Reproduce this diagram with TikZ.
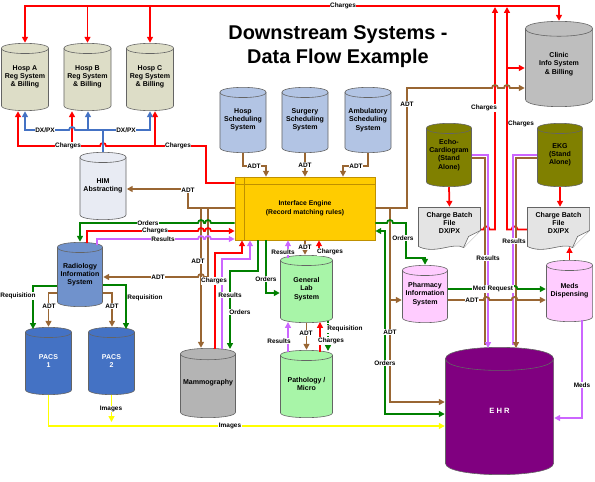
\documentclass[tikz,border=0pt]{standalone}
\usepackage{fontspec}
\setmainfont{Liberation Sans}
\usetikzlibrary{arrows.meta,calc}

\definecolor{cred}{RGB}{255,0,0}
\definecolor{cbrown}{RGB}{153,102,51}
\definecolor{cgreen}{RGB}{0,128,0}
\definecolor{cpurple}{RGB}{204,102,255}
\definecolor{cblue}{RGB}{68,114,196}
\definecolor{cyellow}{RGB}{255,255,0}
\definecolor{hospfill}{RGB}{221,221,199}
\definecolor{clinicfill}{RGB}{190,190,190}
\definecolor{schedfill}{RGB}{178,196,228}
\definecolor{himfill}{RGB}{232,235,243}
\definecolor{olivefill}{RGB}{128,128,0}
\definecolor{radfill}{RGB}{112,146,204}
\definecolor{pacsfill}{RGB}{68,114,196}
\definecolor{mammofill}{RGB}{180,180,180}
\definecolor{labfill}{RGB}{168,245,168}
\definecolor{pinkfill}{RGB}{255,204,255}
\definecolor{ehrfill}{RGB}{128,0,128}
\definecolor{engfill}{RGB}{255,204,0}
\definecolor{engline}{RGB}{191,144,0}
\definecolor{docfill}{RGB}{228,228,228}
\definecolor{dbline}{RGB}{100,100,100}

\newcommand{\dbfont}{\fontsize{6}{7}\selectfont\bfseries}
\newcommand{\hopr}{arc[start angle=180,end angle=0,radius=2.55pt]}
\newcommand{\hopl}{arc[start angle=0,end angle=180,radius=2.55pt]}

\tikzset{
  dbcyl/.style 2 args={align=center, font=\dbfont, inner sep=0pt,
    path picture={
      \coordinate (pnw) at (path picture bounding box.north west);
      \coordinate (pne) at (path picture bounding box.north east);
      \coordinate (psw) at (path picture bounding box.south west);
      \coordinate (pse) at (path picture bounding box.south east);
      \filldraw[fill=#1, draw=dbline, line width=0.5pt]
        ([shift={(0.4pt,-#2)}]pnw) .. controls ([shift={(0.4pt,#2/3-0.4pt)}]pnw) and ([shift={(-0.4pt,#2/3-0.4pt)}]pne) .. ([shift={(-0.4pt,-#2)}]pne)
        -- ([shift={(-0.4pt,#2)}]pse) .. controls ([shift={(-0.4pt,-#2/3+0.4pt)}]pse) and ([shift={(0.4pt,-#2/3+0.4pt)}]psw) .. ([shift={(0.4pt,#2)}]psw) -- cycle;
      \draw[dbline, line width=0.5pt]
        ([shift={(0.4pt,-#2)}]pnw) .. controls ([shift={(0.4pt,-#2*7/3)}]pnw) and ([shift={(-0.4pt,-#2*7/3)}]pne) .. ([shift={(-0.4pt,-#2)}]pne);
    }},
  docfile/.style={minimum width=1.89cm, minimum height=1.35cm, align=center, font=\dbfont, inner sep=0pt, text depth=11pt,
    path picture={
      \coordinate (pnw) at (path picture bounding box.north west);
      \coordinate (pne) at (path picture bounding box.north east);
      \coordinate (psw) at (path picture bounding box.south west);
      \coordinate (pse) at (path picture bounding box.south east);
      \filldraw[fill=docfill, draw=dbline, line width=0.5pt]
        ([shift={(0.4pt,-0.4pt)}]pnw) -- ([shift={(-0.4pt,-0.4pt)}]pne) -- ([shift={(-0.4pt,-20pt)}]pne)
        -- ([shift={(-14.9pt,3.8pt)}]pse) .. controls ([shift={(-23.4pt,8.9pt)}]pse) and ([shift={(14.9pt,-2.5pt)}]psw) .. ([shift={(0.4pt,4.7pt)}]psw) -- cycle;
      \filldraw[fill=white, draw=dbline, line width=0.5pt]
        ([shift={(-0.4pt,-20pt)}]pne) -- ([shift={(-10.6pt,-25.1pt)}]pne) -- ([shift={(-14.9pt,3.8pt)}]pse);
    }},
  engine/.style={draw=engline, fill=engfill, line width=0.6pt, minimum width=4.2cm, minimum height=1.89cm, align=center, font=\fontsize{5.8}{7.5}\selectfont\bfseries},
  titletext/.style={align=center, font=\fontsize{17}{20.5}\selectfont\bfseries},
  lbl/.style={fill=white, inner sep=0.5pt, font=\fontsize{5.5}{6}\selectfont\bfseries},
  flow/.style={line width=1.5pt},
  chg/.style={flow, cred},
  adt/.style={flow, cbrown},
  ord/.style={flow, cgreen},
  res/.style={flow, cpurple},
  dx/.style={flow, cblue},
  img/.style={flow, cyellow}
}

\begin{document}
\begin{tikzpicture}[x=0.03cm, y=-0.03cm, >={Triangle[length=5pt,width=5pt]}]
\useasboundingbox (0,0) rectangle (595,482);

\node[titletext] (title_) at (338,47) {Downstream Systems -\\Data Flow Example};

% registration and billing
\node[dbcyl={hospfill}{4.5pt}, minimum width=1.44cm, minimum height=2.04cm] (hospa) at (25,77) {Hosp A\\Reg System\\\& Billing};
\node[dbcyl={hospfill}{4.5pt}, minimum width=1.44cm, minimum height=2.04cm] (hospb) at (87.5,77) {Hosp B\\Reg System\\\& Billing};
\node[dbcyl={hospfill}{4.5pt}, minimum width=1.44cm, minimum height=2.04cm] (hospc) at (150,77) {Hosp C\\Reg System\\\& Billing};
\node[dbcyl={clinicfill}{6.5pt}, minimum width=2.04cm, minimum height=2.58cm] (clinic) at (559,64) {Clinic\\Info System\\\& Billing};

% scheduling
\node[dbcyl={schedfill}{4.5pt}, minimum width=1.41cm, minimum height=1.98cm] (hsched) at (243,120) {Hosp\\Scheduling\\System};
\node[dbcyl={schedfill}{4.5pt}, minimum width=1.41cm, minimum height=1.98cm] (ssched) at (305,120) {Surgery\\Scheduling\\System};
\node[dbcyl={schedfill}{4.5pt}, minimum width=1.41cm, minimum height=1.98cm] (asched) at (368,120) {Ambulatory\\Scheduling\\System};
\node[dbcyl={himfill}{4.5pt}, minimum width=1.41cm, minimum height=2.04cm] (him) at (103,186) {HIM\\Abstracting};

% engine
\node[engine] (ie) at (305,208.5) {Interface Engine\\(Record matching rules)};
\draw[engline, line width=0.6pt] ($(ie.north west)+(10,0)$) -- ($(ie.south west)+(10,0)$);
\draw[engline, line width=0.6pt] ($(ie.north west)+(0,8)$) -- ($(ie.north east)+(0,8)$);

% stand alone systems
\node[dbcyl={olivefill}{4.5pt}, minimum width=1.38cm, minimum height=1.92cm] (echo) at (449,155) {Echo-\\Cardiogram\\(Stand\\Alone)};
\node[dbcyl={olivefill}{4.5pt}, minimum width=1.38cm, minimum height=1.92cm] (ekg) at (560,155) {EKG\\(Stand\\Alone)};
\node[docfile] (cbf1) at (449.5,229.5) {Charge Batch\\File\\DX/PX};
\node[docfile] (cbf2) at (558.5,229.5) {Charge Batch\\File\\DX/PX};

% departments
\node[dbcyl={radfill}{4.5pt}, minimum width=1.38cm, minimum height=1.95cm] (rad) at (80,274.5) {Radiology\\Information\\System};
\node[dbcyl={pacsfill}{4.5pt}, minimum width=1.41cm, minimum height=2.04cm, text=white] (pacs1) at (48.5,361) {PACS\\1};
\node[dbcyl={pacsfill}{4.5pt}, minimum width=1.41cm, minimum height=2.04cm, text=white] (pacs2) at (111.5,361) {PACS\\2};
\node[dbcyl={mammofill}{5pt}, minimum width=1.68cm, minimum height=2.1cm] (mammo) at (208,383) {Mammography};
\node[dbcyl={labfill}{4.5pt}, minimum width=1.59cm, minimum height=2.04cm] (lab) at (306.5,289) {General\\Lab\\System};
\node[dbcyl={labfill}{4.5pt}, minimum width=1.59cm, minimum height=2.04cm] (patho) at (306.5,384) {Pathology /\\Micro};
\node[dbcyl={pinkfill}{4.5pt}, minimum width=1.38cm, minimum height=1.74cm] (pharm) at (425,294) {Pharmacy\\Information\\System};
\node[dbcyl={pinkfill}{4.5pt}, minimum width=1.41cm, minimum height=1.86cm] (meds) at (569.5,291) {Meds\\Dispensing};
\node[dbcyl={ehrfill}{10pt}, minimum width=3.27cm, minimum height=3.84cm, text=white, font=\fontsize{6.5}{8}\selectfont\bfseries] (ehr) at (499.5,411) {E H R};

% charges to registration and clinic
\draw[chg,<->] (hospa.north) |- (clinic.north |- 0,6) -- (clinic.north);
\draw[chg,->] (hospb.north |- 0,6) -- (hospb.north);
\draw[chg,->] (hospc.north |- 0,6) -- (hospc.north);
\draw[chg,->] (cbf1.east) -- (483.5,229.5) \hopr -- (495,229.5) -- (495,7);
\draw[chg,->] (cbf2.west) -- (517.5,229.5) \hopl -- (507,229.5) -- (507,7);
\draw[chg,->] (507,68) -- (clinic.west |- 0,68);
\draw[chg,->] (ie.west |- 0,183) -| (206,146) -- (106,146) \hopl -- (18,146) -- (18,0 |- hospa.south);
\draw[chg,->] (72,146) -- (72,0 |- hospb.south);
\draw[chg,->] (155,146) -- (155,0 |- hospc.south);

% dx/px from HIM
\draw[dx,->] (him.north) -- (him.north |- 0,130) -- (75,130) \hopl -- (hospa.south |- 0,130) -- (hospa.south);
\draw[dx,->] (88,130) -- (88,0 |- hospb.south);
\draw[dx,->] (him.north |- 0,130) -- (hospc.south |- 0,130) -- (hospc.south);

% scheduling ADT
\draw[adt,->] (hsched.south) |- (266,166) -- (266,0 |- ie.north);
\draw[adt,->] (ssched.south) -- (ssched.south |- ie.north);
\draw[adt,->] (asched.south) |- (343,166) -- (343,0 |- ie.north);

% left side
\draw[adt,->] (ie.west |- 0,208) -- (188,208) -- (188,189) -- (him.east |- 0,189);
\draw[adt,->] (201,208) -- (201,0 |- mammo.north);
\draw[adt,->] (208,208) -- (208,277) -- (204,277) \hopl -- (rad.east |- 0,277);
\draw[ord,->] (ie.west |- 0,223) -- (211,223) \hopl -- (204,223) \hopl -- (rad.north |- 0,223) -- (rad.north);
\draw[chg,->] (87,243) |- (198,231) \hopr -- (205,231) \hopr -- (ie.west |- 0,231);
\draw[res,->] (97,245) |- (198,239) \hopr -- (205,239) \hopr -- (ie.west |- 0,239);
\draw[ord,->] (rad.west |- 0,286) -| (33,329);
\draw[adt,->] (rad.west |- 0,293) -| (pacs1.north);
\draw[adt,->] (rad.east |- 0,293) -| (112,0 |- pacs2.north);
\draw[ord,->] (rad.east |- 0,285) -| (126,329);
\draw[img,->] (pacs1.south) |- (ehr.west |- 0,426);
\draw[img,->] (pacs2.south) -- (pacs2.south |- 0,422);

% mammography and lab
\draw[chg,->] (215,349) |- (242,253) -- (242,0 |- ie.south);
\draw[res,->] (222,349) |- (250,259) -- (250,0 |- ie.south);
\draw[ord,->] (258,0 |- ie.south) |- (230,271) -- (230,349);
\draw[ord,->] (266,0 |- ie.south) |- (lab.west |- 0,293);
\draw[res,->] (288,258) -- (288,0 |- ie.south);
\draw[adt,->] (ie.south) -- (ie.south |- lab.north);
\draw[chg,->] (319,256) -- (319,0 |- ie.south);
\draw[res,->] (288,352) -- (288,322);
\draw[adt,->] (lab.south) -- (lab.south |- patho.north);
\draw[chg,->] (320,352) -- (320,322);
\draw[ord,->,dash pattern=on 1.5pt off 1pt] (328,321) -- (328,351);

% right side
\draw[adt,->] (ie.east |- 0,208) -| (407,88) -- (492,88) \hopr -- (504,88) \hopr -- (clinic.west |- 0,88);
\draw[adt,->] (390,208) |- (ehr.west |- 0,402);
\draw[adt,->] (390,300) -- (pharm.west |- 0,300);
\draw[ord,->] (ie.east |- 0,223) -- (387,223) \hopr -- (406,223) |- (pharm.north |- 0,258) -- (pharm.north);
\draw[ord,<->] (ie.east |- 0,231) -| (385,414) -- (ehr.west |- 0,414);
\draw[adt, line width=1pt] (echo.east |- 0,158) -- (485,158) -- (485,345);
\draw[res,->] (echo.east |- 0,155) -- (488,155) -- (488,348);
\draw[res] (ekg.west |- 0,155) -- (513,155) -- (513,345);
\draw[adt,->, line width=1pt] (ekg.west |- 0,158) -- (516,158) -- (516,348);
\draw[ord,->] (pharm.east |- 0,289) -- (483.5,289) \hopr -- (511.5,289) \hopr -- (meds.west |- 0,289);
\draw[adt,->] (pharm.east |- 0,300) -- (483.5,300) \hopr -- (511.5,300) \hopr -- (meds.west |- 0,300);
\draw[chg,->] (echo.south) -- (cbf1.north);
\draw[chg,->] (ekg.south) -- (ekg.south |- cbf2.north);
\draw[chg,->] (meds.north) -- (meds.north |- 0,247);
\draw[res,->] (582,320) |- (ehr.east |- 0,418);

% labels
\node[lbl] (l_chg0) at (343,6) {Charges};
\node[lbl] (l_chg1) at (68,146) {Charges};
\node[lbl] (l_chg2) at (178,146) {Charges};
\node[lbl] (l_dx1) at (45,130) {DX/PX};
\node[lbl] (l_dx2) at (126,130) {DX/PX};
\node[lbl] (l_adt1) at (254,166) {ADT};
\node[lbl] (l_adt2) at (305,165) {ADT};
\node[lbl] (l_adt3) at (356,166) {ADT};
\node[lbl] (l_adt4) at (188,190) {ADT};
\node[lbl] (l_adt5) at (198,261) {ADT};
\node[lbl] (l_adt6) at (158,277) {ADT};
\node[lbl] (l_ord1) at (148,223) {Orders};
\node[lbl] (l_chg3) at (155,231) {Charges};
\node[lbl] (l_res1) at (163,239) {Results};
\node[lbl] (l_req1) at (18,296) {Requisition};
\node[lbl] (l_req2) at (145,298) {Requisition};
\node[lbl] (l_adt7) at (49,306) {ADT};
\node[lbl] (l_adt8) at (112,306) {ADT};
\node[lbl] (l_img1) at (111,409) {Images};
\node[lbl] (l_img2) at (230,426) {Images};
\node[lbl] (l_chg4) at (214,281) {Charges};
\node[lbl] (l_res2) at (230,295) {Results};
\node[lbl] (l_ord2) at (240,312) {Orders};
\node[lbl] (l_ord3) at (266,279) {Orders};
\node[lbl] (l_res3) at (283,252) {Results};
\node[lbl] (l_adt9) at (305,247) {ADT};
\node[lbl] (l_chg5) at (330,252) {Charges};
\node[lbl] (l_res4) at (279,341) {Results};
\node[lbl] (l_adt10) at (306,333) {ADT};
\node[lbl] (l_req3) at (345,329) {Requisition};
\node[lbl] (l_chg6) at (331,341) {Charges};
\node[lbl] (l_adt11) at (407,104) {ADT};
\node[lbl] (l_ord4) at (403,238) {Orders};
\node[lbl] (l_adt12) at (390,332) {ADT};
\node[lbl] (l_ord5) at (385,363) {Orders};
\node[lbl] (l_chg7) at (484,108) {Charges};
\node[lbl] (l_chg8) at (521,124) {Charges};
\node[lbl] (l_res5) at (488,258) {Results};
\node[lbl] (l_res6) at (514,241) {Results};
\node[lbl] (l_medreq) at (493,289) {Med Request};
\node[lbl] (l_adt13) at (472,300) {ADT};
\node[lbl] (l_meds) at (582,385) {Meds};
\end{tikzpicture}
\end{document}
